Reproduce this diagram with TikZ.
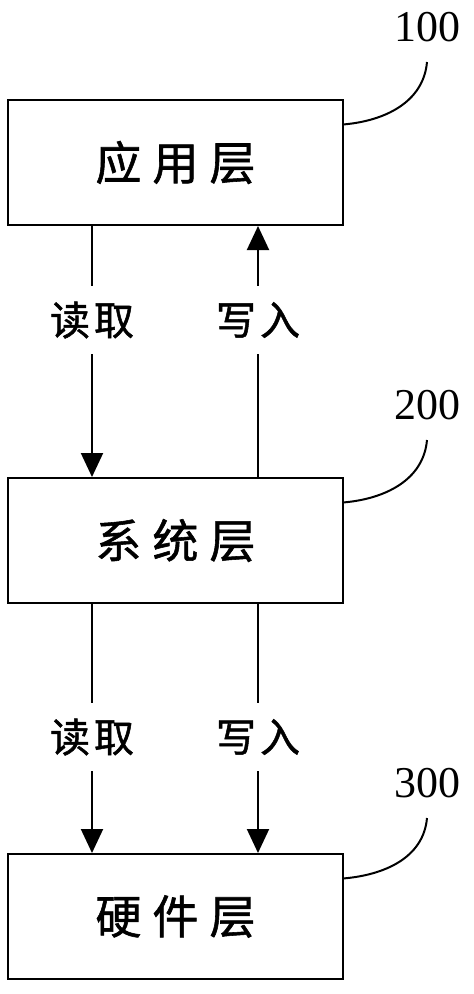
\documentclass[tikz,border=0pt]{standalone}
\usepackage{fontspec}
\setmainfont{Liberation Serif}
\newfontfamily\cjk[LetterSpace=24,FakeBold=1.2]{Noto Sans CJK SC}
\newfontfamily\cjklabel[LetterSpace=10,FakeBold=1.2]{Noto Sans CJK SC}
\usepackage{tikz}
\usetikzlibrary{arrows.meta, positioning, calc}

\begin{document}
\begin{tikzpicture}[
  x=1pt, y=1pt,
  layer/.style={draw, line width=2pt, rectangle, minimum width=335pt, minimum height=125pt, inner sep=0pt, font=\fontsize{46}{50}\selectfont\cjk},
  oplabel/.style={inner sep=0pt, minimum height=68pt, font=\fontsize{40}{44}\selectfont\cjklabel},
  refnum/.style={anchor=south, inner sep=20pt, font=\fontsize{44}{48}\selectfont},
  leader/.style={line width=2pt},
  flow/.style={line width=2pt},
  >={Triangle[length=24pt,width=22pt]}
]
  \useasboundingbox (0,0) rectangle (474,-994);

  % layers
  \node[layer] (app) at (175.5,-162.5) {应用层};
  \node[layer] (sys) at (175.5,-540.5) {系统层};
  \node[layer] (hw)  at (175.5,-916.5) {硬件层};

  % reference numerals
  \node[refnum] (n100) at (427,-62)  {100};
  \node[refnum] (n200) at (427,-440) {200};
  \node[refnum] (n300) at (427,-818) {300};

  \draw[leader] ($(app.north east)!0.2!(app.south east)$) to[out=5,in=-95] (n100.south);
  \draw[leader] ($(sys.north east)!0.2!(sys.south east)$) to[out=5,in=-95] (n200.south);
  \draw[leader] ($(hw.north east)!0.2!(hw.south east)$) to[out=5,in=-95] (n300.south);

  % application <-> system
  \node[oplabel] (rd1) at (92,-320)  {读取};
  \node[oplabel] (wr1) at (258,-320) {写入};
  \draw[flow] (app.south -| rd1) -- (rd1.north);
  \draw[flow,->] (rd1.south) -- (sys.north -| rd1);
  \draw[flow] (sys.north -| wr1) -- (wr1.south);
  \draw[flow,->] (wr1.north) -- (app.south -| wr1);

  % system -> hardware
  \node[oplabel] (rd2) at (92,-737)  {读取};
  \node[oplabel] (wr2) at (258,-737) {写入};
  \draw[flow] (sys.south -| rd2) -- (rd2.north);
  \draw[flow,->] (rd2.south) -- (hw.north -| rd2);
  \draw[flow] (sys.south -| wr2) -- (wr2.north);
  \draw[flow,->] (wr2.south) -- (hw.north -| wr2);
\end{tikzpicture}
\end{document}
